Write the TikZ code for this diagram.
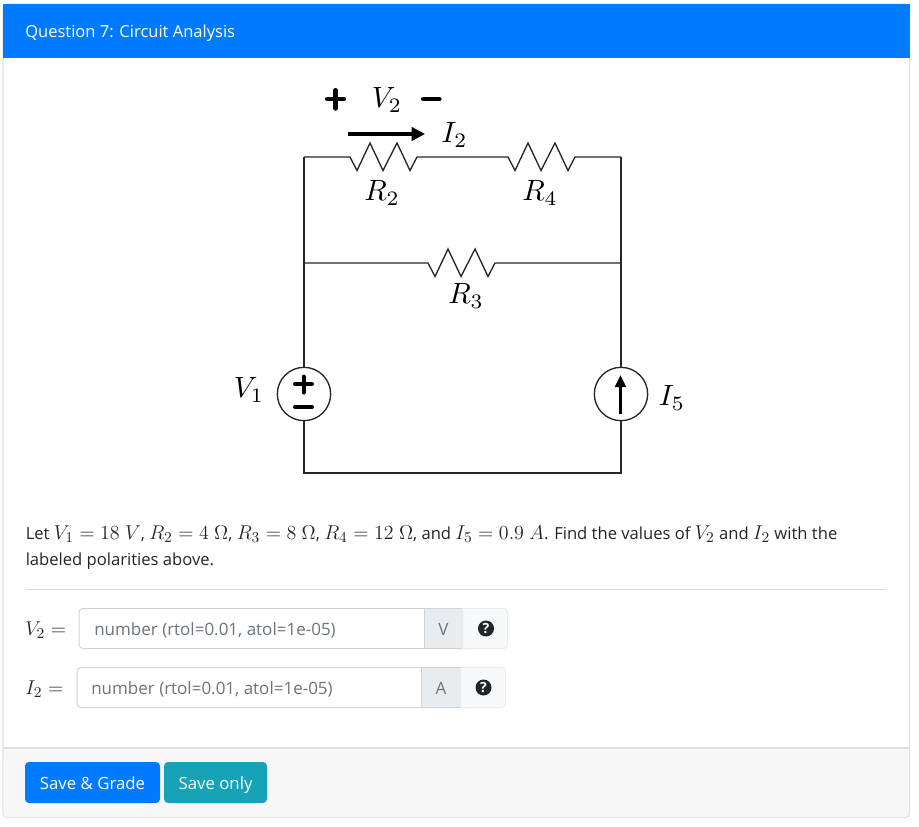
\documentclass[tikz,border=0pt]{standalone}
\usepackage[no-math]{fontspec}
\setmainfont{Open Sans}
\usetikzlibrary{arrows.meta}
\definecolor{cardblue}{HTML}{007BFF}
\definecolor{cardteal}{HTML}{17A2B8}
\definecolor{cardline}{HTML}{DFDFDF}
\definecolor{cardfoot}{HTML}{F7F7F7}
\definecolor{bodytext}{HTML}{212529}
\definecolor{hinttext}{HTML}{6C757D}
\definecolor{inputline}{HTML}{CED4DA}
\definecolor{unitfill}{HTML}{E9ECEF}
\definecolor{helpfill}{HTML}{F8F9FA}
\newcommand{\fs}[1]{\fontsize{#1}{#1}\selectfont}
\newcommand{\mth}[1]{\scalebox{1.25}{$#1$}}
\tikzset{
    wire/.style={line width=1pt, draw=black!85},
    source/.style={circle, draw=black!85, line width=1pt, minimum size=40pt, inner sep=0pt, fill=white},
    symb/.style={line width=3pt, black, line cap=round},
    polar/.style={line width=3.6pt, black, line cap=round},
    mathlabel/.style={inner sep=0pt, scale=2.2, black},
    bodylabel/.style={inner sep=0pt, anchor=base west, text=bodytext, font=\fs{12.45}},
    hintlabel/.style={inner sep=0pt, anchor=base west, text=hinttext, font=\fs{12.75}},
    btnlabel/.style={inner sep=0pt, anchor=base, text=white, font=\fs{12.6}},
    helpmark/.style={circle, fill=bodytext, text=white, inner sep=0pt, minimum size=12pt, font=\fs{10.5}\bfseries},
    inputbox/.style={draw=inputline, fill=white, line width=0.75pt},
    helpbox/.style={draw=unitfill, fill=helpfill, line width=0.75pt},
}
\begin{document}
\begin{tikzpicture}[x=0.75pt, y=-0.75pt]
    \useasboundingbox (0,0) rectangle (919,826);

    % card
    \draw[cardline, line width=0.8pt, fill=white, rounded corners=3pt] (3,4) rectangle (909.5,817.5);
    \fill[cardblue]     (3,4) rectangle (909.5,58);
    \fill[cardfoot, rounded corners=3pt] (3.5,760) rectangle (909,817);
    \fill[cardfoot]     (3.5,748) rectangle (909,780);
    \draw[cardline, line width=0.8pt] (3,748) -- (909.5,748);
    \node[inner sep=0pt, anchor=base west, text=white, font=\fs{12.4}] (title) at (25,37.5) {Question 7: Circuit Analysis};

    % circuit corners
    \coordinate (tl) at (304,157);
    \coordinate (tr) at (621,157);
    \coordinate (ml) at (304,263);
    \coordinate (mr) at (621,263);
    \coordinate (bl) at (304,473);
    \coordinate (br) at (621,473);
    \coordinate (r2a) at (350,157);
    \coordinate (r2b) at (417,157);
    \coordinate (r4a) at (508,157);
    \coordinate (r4b) at (575,157);
    \coordinate (r3a) at (428,263);
    \coordinate (r3b) at (495,263);
    \node[source] (v1) at (304,394) {};
    \node[source] (i5) at (621,394) {};

    % wires
    \draw[wire] (tl) -- (r2a) -- ++(7,13.5) -- ++(13,-27.5) -- ++(13,27.5) -- ++(14,-27.5) -- ++(13,27.5) -- (r2b) -- (r4a)
        -- ++(7,13.5) -- ++(13,-27.5) -- ++(13,27.5) -- ++(14,-27.5) -- ++(13,27.5) -- (r4b) -- (tr);
    \draw[wire] (ml) -- (r3a) -- ++(7,13.5) -- ++(13,-27.5) -- ++(13,27.5) -- ++(14,-27.5) -- ++(13,27.5) -- (r3b) -- (mr);
    \draw[wire] (tl) -- (v1);
    \draw[wire] (v1) -- (bl) -- (br) -- (i5);
    \draw[wire] (i5) -- (tr);

    % source marks
    \draw[symb] (295,384) -- (312,384);
    \draw[symb] (303.5,376.5) -- (303.5,392.5);
    \draw[symb] (295,407) -- (312,407);
    \draw[line width=2.2pt, black, -{Triangle[length=9pt,width=8pt]}] (620.5,413.5) -- (620.5,375);

    % polarity marks
    \draw[polar] (327.4,99) -- (343.6,99);
    \draw[polar] (335.5,90.4) -- (335.5,108.3);
    \draw[polar] (423.4,99) -- (439.3,99);
    \coordinate (i2a) at (348,134);
    \coordinate (i2b) at (425,134);
    \draw[line width=2.4pt, black, -{Triangle[length=10pt,width=10pt]}] (i2a) -- (i2b);

    % labels
    \node[mathlabel] (v2lab) at (387,100) {$V_2$};
    \node[mathlabel] (i2lab) at (454.5,135) {$I_2$};
    \node[mathlabel] (r2lab) at (382,193) {$R_2$};
    \node[mathlabel] (r4lab) at (540,193) {$R_4$};
    \node[mathlabel] (r3lab) at (466,296) {$R_3$};
    \node[mathlabel] (v1lab) at (249,390) {$V_1$};
    \node[mathlabel] (i5lab) at (672,398) {$I_5$};

    % question text
    \node[bodylabel] (line1) at (25.5,539) {Let \mth{V_1=18\ V}, \mth{R_2=4\ \Omega}, \mth{R_3=8\ \Omega}, \mth{R_4=12\ \Omega}, and \mth{I_5=0.9\ A}. Find the values of \mth{V_2} and \mth{I_2} with the};
    \node[bodylabel] (line2) at (25.5,565) {labeled polarities above.};
    \draw[cardline, line width=0.75pt] (25.5,589.5) -- (886,589.5);

    % first answer row
    \node[bodylabel] (v2eq) at (25,635) {\mth{V_2=}};
    \draw[inputbox, rounded corners=3pt] (79,608.5) rectangle (480,648.5);
    \fill[unitfill] (424,609) rectangle (462.5,648);
    \draw[inputline, line width=0.75pt] (424,608.5) -- (424,648.5);
    \draw[helpbox] (462.5,608.5) [rounded corners=3pt] -- (507.5,608.5) -- (507.5,648.5) [sharp corners] -- (462.5,648.5) -- cycle;
    \node[hintlabel] (v2hint) at (94,635) {number (rtol=0.01, atol=1e-05)};
    \node[hintlabel, anchor=base] (v2unit) at (443.5,635) {V};
    \node[helpmark] (v2help) at (486,628.5) {?};

    % second answer row
    \node[bodylabel] (i2eq) at (25,694) {\mth{I_2=}};
    \draw[inputbox, rounded corners=3pt] (77,667.5) rectangle (480,707.5);
    \fill[unitfill] (421.5,668) rectangle (460.5,707);
    \draw[inputline, line width=0.75pt] (421.5,667.5) -- (421.5,707.5);
    \draw[helpbox] (460.5,667.5) [rounded corners=3pt] -- (505.5,667.5) -- (505.5,707.5) [sharp corners] -- (460.5,707.5) -- cycle;
    \node[hintlabel] (i2hint) at (91,694) {number (rtol=0.01, atol=1e-05)};
    \node[hintlabel, anchor=base] (i2unit) at (441,694) {A};
    \node[helpmark] (i2help) at (483.5,687.5) {?};

    % buttons
    \fill[cardblue, rounded corners=3pt] (25,762) rectangle (160,803);
    \fill[cardteal, rounded corners=3pt] (164,762) rectangle (267,803);
    \node[btnlabel] (grade) at (92.5,789.5) {Save \& Grade};
    \node[btnlabel] (save) at (215.5,789.5) {Save only};
\end{tikzpicture}
\end{document}
